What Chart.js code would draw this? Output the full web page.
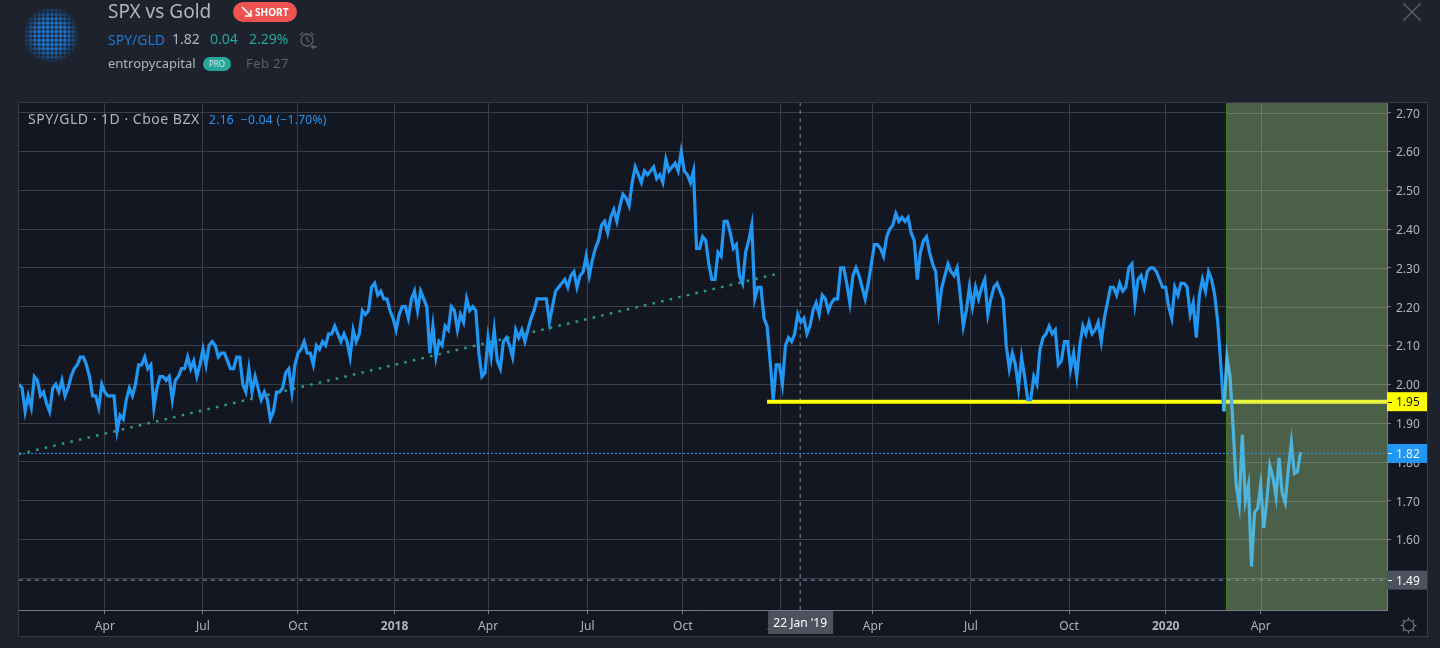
<!DOCTYPE html>
<html>
<head>
<meta charset="utf-8">
<title>SPX vs Gold</title>
<script src="https://cdn.jsdelivr.net/npm/chart.js@4"></script>
<style>
    html, body { margin: 0; padding: 0; width: 1440px; height: 648px; overflow: hidden; background: #1e222d; font-family: "Noto Sans", sans-serif; }
    #pane { position: absolute; left: 18px; top: 102px; width: 1408px; height: 533px; background: #131722; border: 1px solid #363a45; }
    #forexChart { position: absolute; left: 0; top: 0; }
    .txt { position: absolute; white-space: nowrap; line-height: 1; }
    #logo { position: absolute; left: 24px; top: 8px; width: 54px; height: 54px; background: radial-gradient(circle at center, #1b74d0 1.5px, transparent 2.2px) 0 0 / 4.3px 4.3px; -webkit-mask-image: radial-gradient(circle, #000 40%, rgba(0,0,0,0.25) 68%, transparent 74%); }
    #badge { position: absolute; left: 233px; top: 2px; width: 64px; height: 20px; border-radius: 10px; background: #ef5350; color: #fff; font-size: 10px; font-weight: 700; line-height: 20px; }
    #pro { position: absolute; left: 203px; top: 57px; width: 28px; height: 14px; border-radius: 7px; background: #26a69a; color: #e0e3eb; font-size: 8px; line-height: 14px; text-align: center; }
</style>
</head>
<body>
<div id="pane"></div>
<canvas id="forexChart" width="1440" height="648"></canvas>

<div id="logo"></div>
<div class="txt" style="left:108px;top:2px;font-size:19px;color:#b2b5be">SPX vs Gold</div>
<div id="badge"><svg width="12" height="12" style="position:absolute;left:8px;top:4px" fill="none" stroke="#fff" stroke-width="1.6"><path d="M1 1L10 10M10 4V10H4"/></svg><span style="position:absolute;left:22px">SHORT</span></div>
<div class="txt" style="left:108px;top:33px;font-size:14px;color:#1e78d2">SPY/GLD</div>
<div class="txt" style="left:172px;top:32px;font-size:14px;color:#b2b5be">1.82</div>
<div class="txt" style="left:210px;top:32px;font-size:14px;color:#26a69a">0.04</div>
<div class="txt" style="left:249px;top:32px;font-size:14px;color:#26a69a">2.29%</div>
<svg style="position:absolute;left:299px;top:31px" width="19" height="19" fill="none" stroke="#5d606b" stroke-width="1.3"><circle cx="8" cy="9" r="6"/><path d="M8 5.5V9L10.5 11M1 4L4 1.5M15 4L12 1.5M14 14V18M12 16H18"/></svg>
<div class="txt" style="left:108px;top:57px;font-size:13px;color:#b2b5be">entropycapital</div>
<div id="pro">PRO</div>
<div class="txt" style="left:246px;top:57px;font-size:13px;letter-spacing:0.4px;color:#5d606b">Feb 27</div>
<svg style="position:absolute;left:1402px;top:2px" width="20" height="20" stroke="#5d606b" stroke-width="1.3"><path d="M1 1L19 19M19 1L1 19"/></svg>
<div class="txt" style="left:28px;top:112px;font-size:14px;letter-spacing:0.5px;color:#b2b5be">SPY/GLD · 1D · Cboe BZX</div>
<div class="txt" style="left:209px;top:114px;font-size:12px;letter-spacing:0.3px;color:#2196f3">2.16 &nbsp;−0.04 (−1.70%)</div>
<svg style="position:absolute;left:1400px;top:617px" width="17" height="17" fill="none" stroke="#787b86" stroke-width="1.2"><circle cx="8.5" cy="8.5" r="5.5"/><path d="M8.5 0.5V3M8.5 14V16.5M0.5 8.5H3M14 8.5H16.5M2.8 2.8L4.6 4.6M12.4 12.4L14.2 14.2M14.2 2.8L12.4 4.6M4.6 12.4L2.8 14.2"/></svg>

<script>
// SPY/GLD closes, one value every 2 bars
const closes2017a = [2.00,1.99,1.93,1.97,1.94,2.02,2.01,1.97,1.98,1.95,1.93,1.99,2.00,1.98,2.01,1.97,1.99,2.02,2.04,2.05,2.07,2.07,2.05,2.02,1.97,1.97,1.94,2.00,1.98];
const closes2017b = [1.97,1.97,1.97,1.88,1.92,1.91,1.96,1.99,1.97,2.00,2.05,2.05,2.07,2.04,2.05,1.94,1.99,2.02,2.02,2.01,2.02,1.96,2.01,2.02,2.04,2.04,2.07,2.04,2.06,2.02,2.05,2.09];
const closes2017c = [2.05,2.10,2.11,2.10,2.07,2.08,2.08,2.06,2.04,2.04,2.07,2.07,2.00,1.98,2.04,1.98,2.02,1.99,1.96,1.98,1.96,1.91,1.93,1.98,1.98,1.99,2.03,2.04,1.98,2.05,2.08];
const closes2017d = [2.09,2.11,2.08,2.08,2.05,2.10,2.09,2.11,2.10,2.13,2.13,2.15,2.13,2.11,2.13,2.11,2.07,2.14,2.11,2.13,2.19,2.18,2.19,2.25,2.26,2.23,2.24,2.22,2.22,2.19,2.17];
const closes2018a = [2.14,2.18,2.20,2.20,2.17,2.22,2.24,2.19,2.24,2.22,2.20,2.08,2.15,2.07,2.11,2.10,2.15,2.14,2.20,2.19,2.14,2.18,2.16,2.22,2.19,2.20,2.19,2.08,2.02,2.03,2.12];
const closes2018b = [2.07,2.14,2.06,2.04,2.11,2.12,2.10,2.07,2.14,2.12,2.14,2.11,2.14,2.17,2.19,2.22,2.22,2.22,2.22,2.16,2.20,2.24,2.25,2.26,2.27,2.25,2.28,2.29,2.25,2.28,2.29,2.33];
const closes2018c = [2.28,2.32,2.35,2.37,2.41,2.42,2.39,2.43,2.45,2.42,2.46,2.49,2.48,2.46,2.52,2.56,2.54,2.52,2.55,2.54,2.55,2.56,2.53,2.54,2.52,2.58,2.55,2.56,2.57,2.55,2.60];
const closes2018d = [2.55,2.54,2.52,2.55,2.35,2.35,2.38,2.37,2.31,2.27,2.27,2.34,2.33,2.42,2.42,2.39,2.35,2.36,2.28,2.26,2.34,2.37,2.41,2.22,2.25,2.25,2.17,2.15,2.06,1.96,2.05,2.05];
const closes2019a = [2.00,2.10,2.12,2.11,2.13,2.18,2.16,2.17,2.13,2.15,2.19,2.21,2.18,2.23,2.22,2.19,2.21,2.22,2.22,2.30,2.30,2.26,2.21,2.28,2.30,2.28,2.25,2.22,2.26];
const closes2019b = [2.31,2.36,2.36,2.35,2.33,2.38,2.40,2.41,2.44,2.42,2.43,2.42,2.43,2.39,2.37,2.27,2.34,2.37,2.38,2.34,2.31,2.29,2.19,2.25,2.28,2.31,2.29,2.28,2.30,2.23,2.15,2.19];
const closes2019c = [2.25,2.20,2.25,2.22,2.25,2.27,2.18,2.22,2.25,2.26,2.24,2.22,2.10,2.04,2.08,2.05,1.99,2.07,2.02,1.96,1.96,2.02,2.00,2.09,2.12,2.13,2.15,2.13,2.14,2.05,2.06,2.11];
const closes2019d = [2.11,2.04,2.08,2.02,2.10,2.15,2.13,2.16,2.13,2.14,2.16,2.11,2.17,2.21,2.25,2.25,2.23,2.26,2.24,2.25,2.30,2.31,2.21,2.27,2.28,2.25,2.29,2.30,2.30,2.29,2.27,2.25];
const closes2020a = [2.25,2.20,2.17,2.25,2.23,2.26,2.26,2.25,2.18,2.21,2.12,2.23,2.27,2.24,2.29,2.27,2.23,2.16,2.05,1.93];
const closes2020b = [2.07,2.02,1.89,1.74,1.69,1.87,1.70,1.74,1.53,1.67,1.68,1.74,1.63,1.70,1.79,1.76,1.71,1.81,1.72,1.695,1.78,1.85,1.77,1.775,1.825];
const closes = [].concat(closes2017a, closes2017b, closes2017c, closes2017d, closes2018a, closes2018b,
    closes2018c, closes2018d, closes2019a, closes2019b, closes2019c, closes2019d, closes2020a, closes2020b);
const barsPerClose = 2;

// Axis ticks, x in trading bars from the left edge
const tickBars = [56, 120, 182, 245, 306, 371, 433, 497, 557, 621, 685, 748, 810];
const tickLabels = ['Apr', 'Jul', 'Oct', '2018', 'Apr', 'Jul', 'Oct', '2019', 'Apr', 'Jul', 'Oct', '2020', 'Apr'];
const yearLabels = ['2018', '2019', '2020'];
const priceTicks = [1.5, 1.6, 1.7, 1.8, 1.9, 2.0, 2.1, 2.2, 2.3, 2.4, 2.5, 2.6, 2.7];
const xMax = 892.4, yMin = 1.418, yMax = 2.725;

// Drawings on the chart
const trendBars = [0, 493], trendValues = [1.82, 2.283];
const supportBars = [488, 787.4, xMax], supportValue = 1.955;
const lastValue = 1.8216, crossValue = 1.495, crossBar = 509.6;
const zoneStartBar = 787.4;

const BLUE = '#2196f3', BLUE_IN_ZONE = '#4fb4dc';
const YELLOW = '#ffff00', YELLOW_IN_ZONE = '#e8f53c';

// Green box, it covers the grid so the grid gets drawn again on top of it
const zonePlugin = {
    id: 'zone',
    beforeDatasetsDraw(chart) {
        const { ctx, chartArea: a, scales: { x, y } } = chart;
        const left = x.getPixelForValue(zoneStartBar);
        ctx.save();
        ctx.fillStyle = '#4c5f48';
        ctx.fillRect(left, a.top, a.right - left, a.bottom - a.top);
        ctx.strokeStyle = '#6c7a68';
        ctx.lineWidth = 1;
        ctx.beginPath();
        priceTicks.forEach(v => {
            const py = Math.round(y.getPixelForValue(v)) + 0.5;
            ctx.moveTo(left, py);
            ctx.lineTo(a.right, py);
        });
        const aprPx = Math.round(x.getPixelForValue(tickBars[12])) + 0.5;
        ctx.moveTo(aprPx, a.top);
        ctx.lineTo(aprPx, a.bottom);
        ctx.stroke();
        ctx.fillStyle = '#3d7d2a';
        ctx.fillRect(left, a.top, 1, a.bottom - a.top);
        ctx.restore();
    }
};

// Price tags on the right axis and the crosshair date tag
const tagsPlugin = {
    id: 'tags',
    afterDraw(chart) {
        const { ctx, chartArea: a, scales: { x, y } } = chart;
        const tag = (value, text, bg, fg) => {
            const py = y.getPixelForValue(value);
            ctx.fillStyle = bg;
            ctx.fillRect(a.right, py - 9.5, 40, 19);
            ctx.fillStyle = fg;
            ctx.fillRect(a.right + 1, Math.round(py), 4, 1);
            ctx.font = '12px "Noto Sans"';
            ctx.textAlign = 'left';
            ctx.textBaseline = 'middle';
            ctx.fillText(text, a.right + 9, py + 1);
        };
        ctx.save();
        tag(supportValue, '1.95', YELLOW, '#131722');
        tag(lastValue, '1.82', BLUE, '#e8f0f8');
        tag(crossValue, '1.49', '#4c525e', '#ffffff');
        const px = x.getPixelForValue(crossBar);
        ctx.fillStyle = '#4c525e';
        ctx.fillRect(px - 32, a.bottom + 1, 65, 23);
        ctx.fillStyle = '#ffffff';
        ctx.textAlign = 'center';
        ctx.font = '12px "Noto Sans"';
        ctx.fillText("22 Jan '19", px, a.bottom + 14);
        ctx.restore();
    }
};

const ctx = document.getElementById('forexChart').getContext('2d');
const forexChart = new Chart(ctx, {
    type: 'line',
    data: {
        datasets: [
            {
                label: 'Last',
                data: [{ x: 0, y: lastValue }, { x: xMax, y: lastValue }],
                borderColor: BLUE,
                borderWidth: 1,
                borderDash: [2, 2],
                pointRadius: 0
            },
            {
                label: 'SPY/GLD',
                data: closes.map((v, i) => ({ x: i * barsPerClose, y: v })),
                borderColor: BLUE,
                borderWidth: 3.2,
                pointRadius: 0,
                segment: { borderColor: c => c.p0.parsed.x >= zoneStartBar - 2 ? BLUE_IN_ZONE : BLUE }
            },
            {
                label: 'Support',
                data: supportBars.map(b => ({ x: b, y: supportValue })),
                borderColor: YELLOW,
                borderWidth: 4,
                pointRadius: 0,
                segment: { borderColor: c => c.p0.parsed.x >= zoneStartBar ? YELLOW_IN_ZONE : YELLOW }
            },
            {
                label: 'Trend',
                data: trendBars.map((b, i) => ({ x: b, y: trendValues[i] })),
                borderColor: '#2a9d86',
                borderWidth: 2.5,
                borderDash: [2.5, 6.3],
                pointRadius: 0
            },
            {
                label: 'Cross price',
                data: [{ x: 0, y: crossValue }, { x: xMax, y: crossValue }],
                borderColor: '#8a93a6',
                borderWidth: 1,
                borderDash: [4, 4],
                pointRadius: 0
            },
            {
                label: 'Cross date',
                data: [{ x: crossBar, y: yMin }, { x: crossBar, y: yMax }],
                borderColor: '#758696',
                borderWidth: 1,
                borderDash: [4, 4],
                pointRadius: 0
            }
        ]
    },
    options: {
        responsive: false,
        animation: false,
        events: [],
        layout: { padding: { left: 19, top: 103, right: 13, bottom: 12 } },
        scales: {
            x: {
                type: 'linear',
                min: 0,
                max: xMax,
                afterFit: s => { s.height = 26; },
                afterBuildTicks: s => { s.ticks = tickBars.map(b => ({ value: b })); },
                grid: { color: '#3a3e4b', tickColor: '#787b86', tickLength: 4 },
                border: { color: '#787b86' },
                ticks: {
                    autoSkip: false,
                    maxRotation: 0,
                    padding: 5,
                    color: '#b2b5be',
                    font: c => ({ family: 'Noto Sans', size: 12, weight: c.tick && yearLabels.includes(tickLabels[tickBars.indexOf(c.tick.value)]) ? 'bold' : 'normal' }),
                    callback: v => tickLabels[tickBars.indexOf(v)]
                }
            },
            y: {
                position: 'right',
                min: yMin,
                max: yMax,
                afterFit: s => { s.width = 40; },
                afterBuildTicks: s => { s.ticks = priceTicks.map(v => ({ value: v })); },
                grid: { color: '#3a3e4b', tickColor: '#787b86', tickLength: 4 },
                border: { color: '#787b86' },
                ticks: {
                    autoSkip: false,
                    padding: 5,
                    labelOffset: 1.5,
                    color: '#b2b5be',
                    font: { family: 'Noto Sans', size: 12 },
                    callback: v => (v === 1.5 ? '' : v.toFixed(2))
                }
            }
        },
        plugins: {
            legend: { display: false },
            tooltip: { enabled: false }
        }
    },
    plugins: [zonePlugin, tagsPlugin]
});
</script>
</body>
</html>
